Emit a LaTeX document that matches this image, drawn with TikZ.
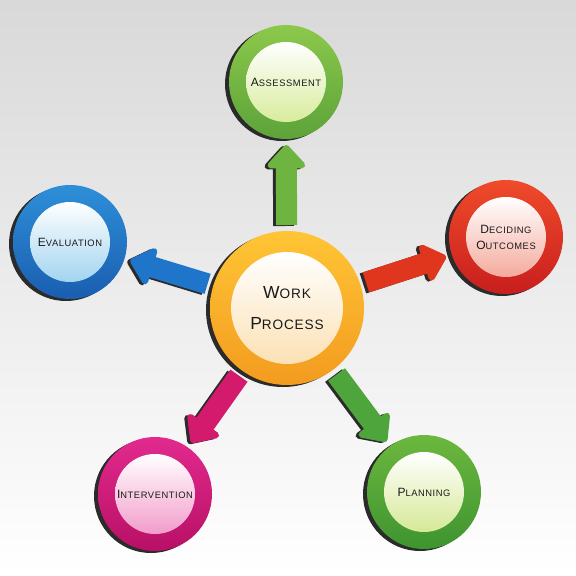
\documentclass[tikz,border=0pt]{standalone}
\usepackage{fontspec}
\setmainfont{Liberation Sans}[LetterSpace=6]
\usetikzlibrary{arrows.meta}

\definecolor{shadowc}{HTML}{2B2B2B}
\definecolor{textc}{HTML}{1A1A1A}
\definecolor{wpLight}{HTML}{FFC535}
\definecolor{wpDark}{HTML}{F39B1F}
\definecolor{wpIn}{HTML}{FBE1B4}
\definecolor{asLight}{HTML}{8CC84B}
\definecolor{asDark}{HTML}{5CA33A}
\definecolor{asIn}{HTML}{D8EC9C}
\definecolor{evLight}{HTML}{2E8FD8}
\definecolor{evDark}{HTML}{1A5EB0}
\definecolor{evIn}{HTML}{A2D4F0}
\definecolor{deLight}{HTML}{EF4B2B}
\definecolor{deDark}{HTML}{C81E1E}
\definecolor{deIn}{HTML}{F4AA9C}
\definecolor{inLight}{HTML}{E22A8E}
\definecolor{inDark}{HTML}{B81066}
\definecolor{inIn}{HTML}{F29CCA}
\definecolor{plLight}{HTML}{6CB83E}
\definecolor{plDark}{HTML}{3E9430}
\definecolor{plIn}{HTML}{D5E996}
\definecolor{arUp}{HTML}{6DB540}
\definecolor{arBlue}{HTML}{1F75C9}
\definecolor{arRed}{HTML}{E0361E}
\definecolor{arPink}{HTML}{D41A6C}
\definecolor{arGreen}{HTML}{4DA53C}

\newcommand\fsc[2]{#1\scalebox{0.78}{#2}}

\tikzset{
  ring/.style={circle, inner sep=0pt, outer sep=0pt, minimum size=#1},
  fatarrow/.style={line width=21pt, -{Triangle[width=44pt,length=25pt,round]},
    shorten <=6pt, shorten >=6pt}
}

\begin{document}
\begin{tikzpicture}[x=1pt,y=-1pt]

  % background
  \shade[top color=gray!30, middle color=gray!12, bottom color=white]
    (0,0) rectangle (576,576);
  \useasboundingbox (0,0) rectangle (576,576);

  % center bubble
  \fill[shadowc] (283,310) circle (77);
  \node[ring=154pt, top color=wpLight, bottom color=wpDark] (work) at (287,308) {};
  \node[ring=112pt, top color=white, bottom color=wpIn, text=textc,
    font=\fontsize{17.5}{31}\selectfont, align=center] (worktxt) at (work)
    {\fsc{W}{ORK}\\\fsc{P}{ROCESS}};

  % outer bubbles
  \foreach \nm/\px/\py/\cl/\cd/\ci/\txt in {
      assess/286/82/asLight/asDark/asIn/{\fsc{A}{SSESSMENT}},
      evalu/70/242/evLight/evDark/evIn/{\fsc{E}{VALUATION}},
      decide/506/237/deLight/deDark/deIn/{\fsc{D}{ECIDING}\\\fsc{O}{UTCOMES}},
      interv/155/494/inLight/inDark/inIn/{\fsc{I}{NTERVENTION}},
      plan/424/492/plLight/plDark/plIn/{\fsc{P}{LANNING}}}
  {
    \fill[shadowc] (\px-4,\py+2) circle (57);
    \node[ring=114pt, top color=\cl, bottom color=\cd] (\nm) at (\px,\py) {};
    \node[ring=80pt, top color=white, bottom color=\ci, text=textc,
      font=\fontsize{12}{16}\selectfont, align=center] (\nm txt) at (\nm) {\txt};
  }

  % arrows
  \foreach \nm/\ac in {assess/arUp, evalu/arBlue, decide/arRed, interv/arPink, plan/arGreen}
  {
    \draw[fatarrow, draw=shadowc, transform canvas={xshift=-3pt,yshift=-1pt}]
      (work) -- (\nm);
    \draw[fatarrow, draw=\ac] (work) -- (\nm);
  }
\end{tikzpicture}
\end{document}
